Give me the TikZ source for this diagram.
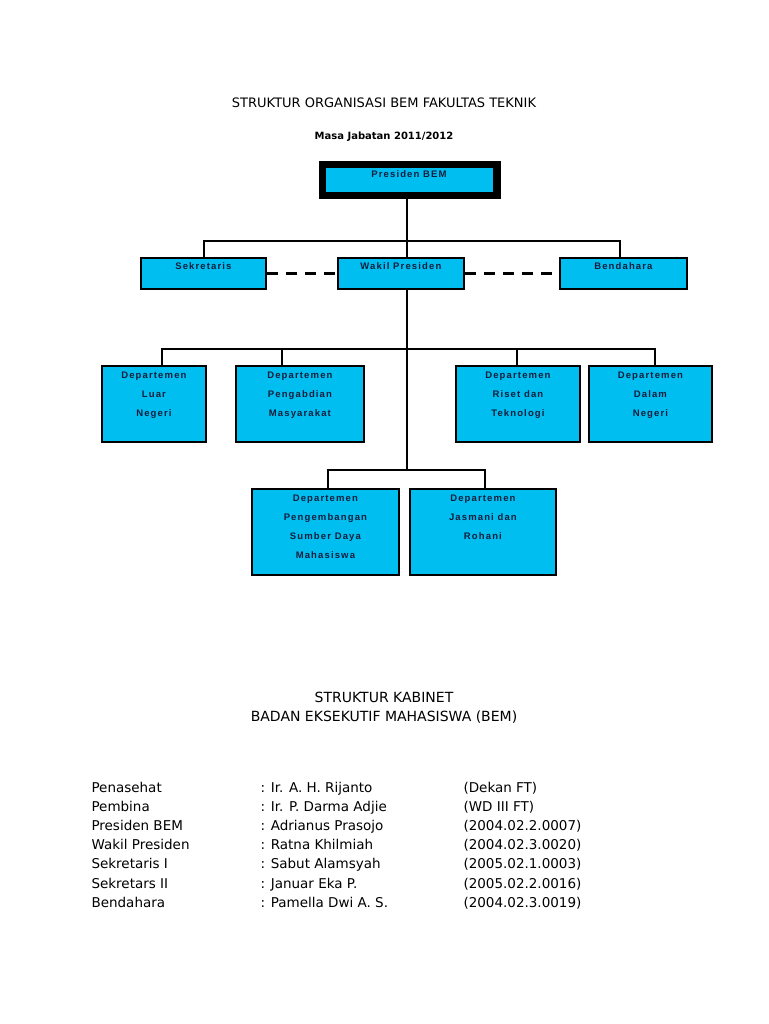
\documentclass[tikz,border=0pt]{standalone}
\usepackage{fontspec}
\setmainfont{DejaVu Sans}
\newfontfamily\boxfont[LetterSpace=12]{Liberation Sans}
\definecolor{bemcyan}{RGB}{0,190,240}
\definecolor{bemtext}{RGB}{20,30,60}
\begin{document}
\begin{tikzpicture}[x=1pt,y=-1pt,
  bx/.style={draw=black,line width=1.8pt,fill=bemcyan,inner sep=0pt},
  bt/.style={font=\boxfont\bfseries\fontsize{9.5}{11}\selectfont,color=bemtext,align=center,anchor=north},
  ln/.style={line width=1.8pt},
  dl/.style={line width=2.6pt,dash pattern=on 11pt off 8pt},
  row/.style={anchor=base west,font=\fontsize{13.5}{15}\selectfont}]
\useasboundingbox (0,0) rectangle (768,1024);
\fill[white] (0,0) rectangle (768,1024);
\node[font=\fontsize{13}{15}\selectfont] (t1) at (384,103) {STRUKTUR ORGANISASI BEM FAKULTAS TEKNIK};
\node[font=\bfseries\fontsize{10}{12}\selectfont] (t2) at (384,137) {Masa Jabatan 2011/2012};
% presiden
\draw[line width=2.5pt,fill=black] (320,162) rectangle (500,198);
\node[bx,minimum width=168,minimum height=25,anchor=north west,line width=0.8pt] (pres) at (325,167) {};
\node[bt] at (409,167) {Presiden BEM};
\coordinate (pb) at (407,198);
% second row
\node[bx,minimum width=125,minimum height=31,anchor=north west] (sek) at (140,257) {};
\node[bx,minimum width=126,minimum height=31,anchor=north west] (wak) at (337,257) {};
\node[bx,minimum width=127,minimum height=31,anchor=north west] (ben) at (559,257) {};
\node[bt] at (sek.north) [yshift=-2] {Sekretaris};
\node[bt] at (wak.north) [yshift=-2] {Wakil Presiden};
\node[bt] at (ben.north) [yshift=-2] {Bendahara};
\draw[ln] (pb) -- (407,257);
\draw[ln] (204,257) -- (204,241) -- (620,241) -- (620,257);
\draw[dl] (sek.east) -- (wak.west);
\draw[dl] (wak.east) -- (ben.west);
% departments
\node[bx,minimum width=104,minimum height=76,anchor=north west] (d1) at (101,365) {};
\node[bx,minimum width=128,minimum height=76,anchor=north west] (d2) at (235,365) {};
\node[bx,minimum width=124,minimum height=76,anchor=north west] (d3) at (455,365) {};
\node[bx,minimum width=123,minimum height=76,anchor=north west] (d4) at (588,365) {};
\foreach \n/\t in {d1/{Departemen\\[8pt]Luar\\[8pt]Negeri},
  d2/{Departemen\\[8pt]Pengabdian\\[8pt]Masyarakat},
  d3/{Departemen\\[8pt]Riset dan\\[8pt]Teknologi},
  d4/{Departemen\\[8pt]Dalam\\[8pt]Negeri}}
  \node[bt] at (\n.north) [yshift=-3] {\t};
\draw[ln] (407,288) -- (407,470);
\draw[ln] (162,365) -- (162,349) -- (655,349) -- (655,365);
\draw[ln] (282,349) -- (282,365);
\draw[ln] (517,349) -- (517,365);
\node[bx,minimum width=147,minimum height=86,anchor=north west] (d5) at (251,488) {};
\node[bx,minimum width=146,minimum height=86,anchor=north west] (d6) at (409,488) {};
\node[bt] at (d5.north) [yshift=-3] {Departemen\\[8pt]Pengembangan\\[8pt]Sumber Daya\\[8pt]Mahasiswa};
\node[bt] at (d6.north) [yshift=-3] {Departemen\\[8pt]Jasmani dan\\[8pt]Rohani};
\draw[ln] (328,488) -- (328,470) -- (485,470) -- (485,488);
% cabinet
\node[font=\fontsize{14}{16}\selectfont] (k1) at (384,697) {STRUKTUR KABINET};
\node[font=\fontsize{14}{16}\selectfont] (k2) at (384,717) {BADAN EKSEKUTIF MAHASISWA (BEM)};
\foreach \i/\a/\b/\c in {0/Penasehat/Ir. A. H. Rijanto/(Dekan FT),
  1/Pembina/Ir. P. Darma Adjie/(WD III FT),
  2/Presiden BEM/Adrianus Prasojo/(2004.02.2.0007),
  3/Wakil Presiden/Ratna Khilmiah/(2004.02.3.0020),
  4/Sekretaris I/Sabut Alamsyah/(2005.02.1.0003),
  5/Sekretars II/Januar Eka P./(2005.02.2.0016),
  6/Bendahara/Pamella Dwi A. S./(2004.02.3.0019)}{
  \node[row] (a\i) at (88,{792+19.2*\i}) {\a};
  \node[row] (b\i) at (257,{792+19.2*\i}) {: \b};
  \node[row] (c\i) at (460,{792+19.2*\i}) {\c};
}
\end{tikzpicture}
\end{document}
